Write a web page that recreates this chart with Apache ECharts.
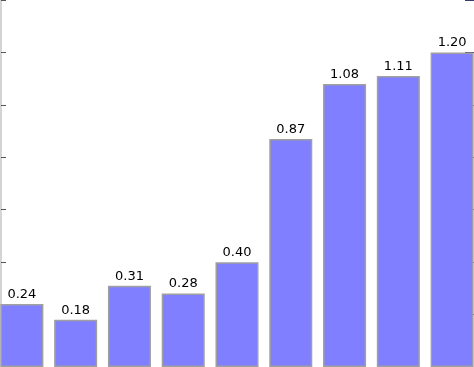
<!DOCTYPE html>
<html>
<head>
<meta charset="utf-8">
<script src="https://cdn.jsdelivr.net/npm/echarts@6/dist/echarts.min.js"></script>
<style>
  html, body { margin: 0; padding: 0; background: #fff; overflow: hidden; }
  /* the plot runs a little past both sides of the window, as in the cropped original */
  #main { width: 484px; height: 367px; margin-left: -5px; }
</style>
</head>
<body>
<div id="main"></div>
<script>
// data
var categories = ["0", "1", "2", "3", "4", "5", "6", "7", "8"];
var values = [0.24, 0.18, 0.31, 0.28, 0.40, 0.87, 1.08, 1.11, 1.20];
var yMin = 0, yMax = 1.4, yStep = 0.2;

var chart = echarts.init(document.getElementById("main"), null, { renderer: "canvas" });

var tickStyle = { color: "#555", width: 1 };

chart.setOption({
  animation: false,
  grid: { left: 0, right: 0, top: 0, bottom: 0, containLabel: false },
  xAxis: [
    {
      type: "category", data: categories, position: "bottom",
      axisLine: { show: false },
      axisTick: { show: true, inside: true, length: 5, alignWithLabel: true, lineStyle: tickStyle },
      axisLabel: { show: false }
    },
    {
      type: "category", data: categories, position: "top",
      axisLine: { show: false },
      axisTick: { show: true, inside: true, length: 5, alignWithLabel: true, lineStyle: { color: "#777", width: 1 } },
      axisLabel: { show: false }
    }
  ],
  yAxis: [
    {
      type: "value", min: yMin, max: yMax, interval: yStep, position: "left", offset: -6,
      axisLine: { show: true, lineStyle: { color: "#d4d4d4", width: 2 } },
      axisTick: { show: true, inside: true, length: 5, lineStyle: tickStyle },
      axisLabel: { show: false },
      splitLine: { show: false }
    },
    {
      type: "value", min: yMin, max: yMax, interval: yStep, position: "right", offset: -5,
      axisLine: { show: false },
      axisTick: { show: true, inside: true, length: 9, lineStyle: { color: "#3a3a6a", width: 1 } },
      axisLabel: { show: false },
      splitLine: { show: false }
    }
  ],
  series: [
    {
      type: "bar",
      data: values,
      barCategoryGap: "20%",
      itemStyle: { color: "#7f7fff", borderColor: "#a0a0a0", borderWidth: 1.5 },
      label: {
        show: true, position: "top", distance: 3,
        color: "#000", fontSize: 13, fontFamily: "DejaVu Sans",
        formatter: function (p) { return p.value.toFixed(2); }
      },
      z: 1
    }
  ]
});
</script>
</body>
</html>
